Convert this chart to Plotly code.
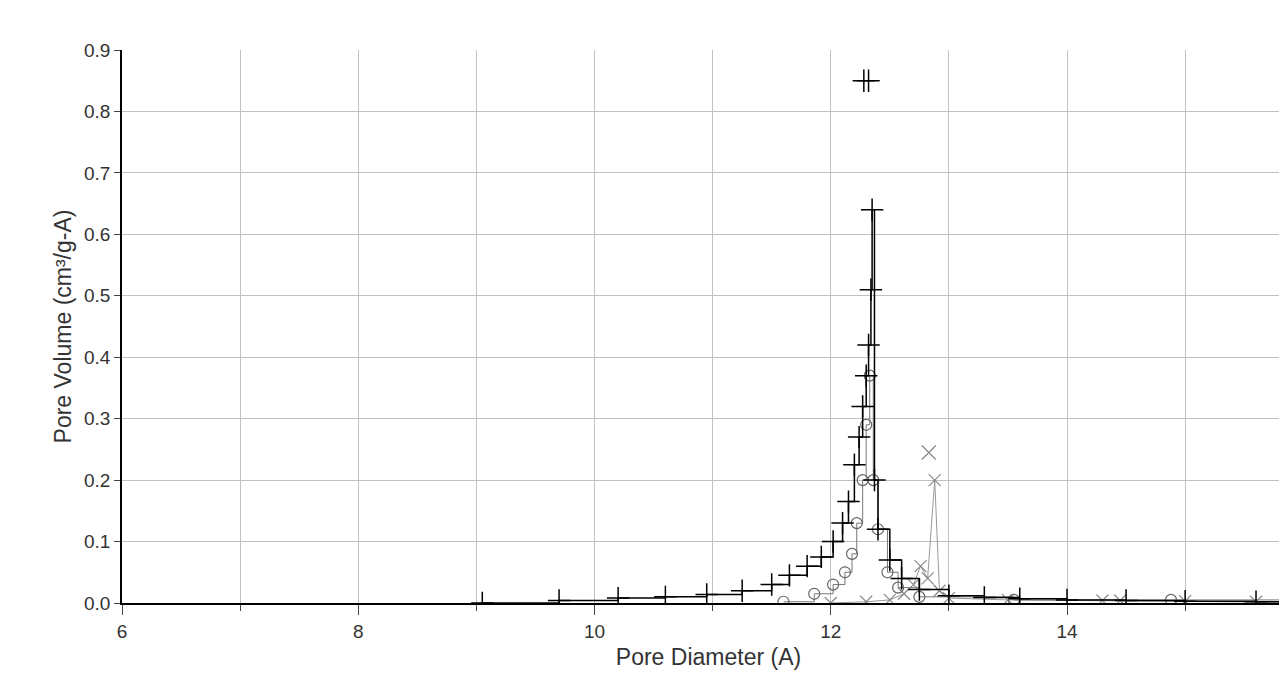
import plotly.graph_objects as go

# black "+" series
x_plus = [9.05, 9.7, 10.2, 10.6, 10.95, 11.25, 11.5, 11.65, 11.8, 11.92, 12.02, 12.1, 12.15, 12.2,
          12.24, 12.27, 12.3, 12.32, 12.34, 12.35, 12.37, 12.4, 12.5, 12.6, 12.75, 13.0, 13.3, 13.6,
          14.0, 14.5, 15.0, 15.6, 15.9]
y_plus = [0.0, 0.004, 0.008, 0.01, 0.014, 0.02, 0.03, 0.045, 0.06, 0.075, 0.1, 0.13, 0.165, 0.225,
          0.27, 0.32, 0.37, 0.42, 0.51, 0.64, 0.2, 0.12, 0.07, 0.04, 0.022, 0.012, 0.009, 0.007,
          0.005, 0.004, 0.003, 0.002, 0.002]
x_top = [12.28, 12.32]
y_top = [0.85, 0.85]

# gray circle series
x_circ = [11.6, 11.86, 12.02, 12.12, 12.18, 12.22, 12.27, 12.3, 12.33, 12.36, 12.4, 12.48, 12.57,
          12.75, 13.55, 14.88, 15.9]
y_circ = [0.002, 0.015, 0.03, 0.05, 0.08, 0.13, 0.2, 0.29, 0.37, 0.2, 0.12, 0.05, 0.025, 0.01,
          0.005, 0.005, 0.002]

# light gray "x" series (peak line without marker)
x_cross = [12.0, 12.3, 12.5, 12.62, 12.7, 12.76, 12.82, 12.88, 12.92, 13.0, 13.5, 14.3,
           14.45, 15.0, 15.6, 15.9]
y_cross = [0.0, 0.002, 0.005, 0.015, 0.03, 0.06, 0.04, 0.2, 0.02, 0.008, 0.005, 0.004,
           0.004, 0.003, 0.002, 0.001]
x_cross_top = [12.83]
y_cross_top = [0.245]

fig = go.Figure()
fig.add_trace(go.Scatter(x=x_cross, y=y_cross, mode="lines+markers", line=dict(color="#999999", width=1),
                         marker=dict(symbol="x-thin", size=12, line=dict(color="#888888", width=1.2))))
fig.add_trace(go.Scatter(x=x_cross_top, y=y_cross_top, mode="markers",
                         marker=dict(symbol="x-thin", size=14, line=dict(color="#888888", width=1.2))))
fig.add_trace(go.Scatter(x=x_circ, y=y_circ, mode="lines+markers", line=dict(color="#777777", width=1, shape="hv"),
                         marker=dict(symbol="circle-open", size=11, color="#666666", line=dict(width=1.2))))
fig.add_trace(go.Scatter(x=x_plus, y=y_plus, mode="lines+markers", line=dict(color="black", width=1.5, shape="hv"),
                         marker=dict(symbol="cross-thin", size=16, line=dict(color="black", width=1.5))))
fig.add_trace(go.Scatter(x=x_top, y=y_top, mode="markers",
                         marker=dict(symbol="cross-thin", size=16, line=dict(color="black", width=1.5))))

fig.update_layout(
    width=1287, height=681, showlegend=False,
    plot_bgcolor="white", paper_bgcolor="white",
    margin=dict(l=114, r=0, t=42, b=86),
    font=dict(family="Liberation Sans, Arial", size=19, color="#333333"),
)
fig.update_xaxes(range=[6, 15.93], tickvals=[6, 8, 10, 12, 14], automargin=False,
                 tickfont=dict(size=19),
                 showgrid=True, gridcolor="#c0c0c0", gridwidth=1,
                 minor=dict(dtick=1, showgrid=True, gridcolor="#c0c0c0", ticks="outside", ticklen=6),
                 ticks="outside", ticklen=10, showline=True, linecolor="black", linewidth=1.5,
                 title=dict(text="Pore Diameter (A)", standoff=8), zeroline=False)
fig.update_yaxes(range=[0, 0.9], dtick=0.1, tickformat=".1f", automargin=False,
                 tickfont=dict(size=19),
                 showgrid=True, gridcolor="#c0c0c0", gridwidth=1,
                 ticks="outside", ticklen=6, showline=True, linecolor="black", linewidth=1.5, mirror=True,
                 title=dict(text="Pore Volume (cm³/g-A)", standoff=6), zeroline=False)

fig.write_html("out.html")
